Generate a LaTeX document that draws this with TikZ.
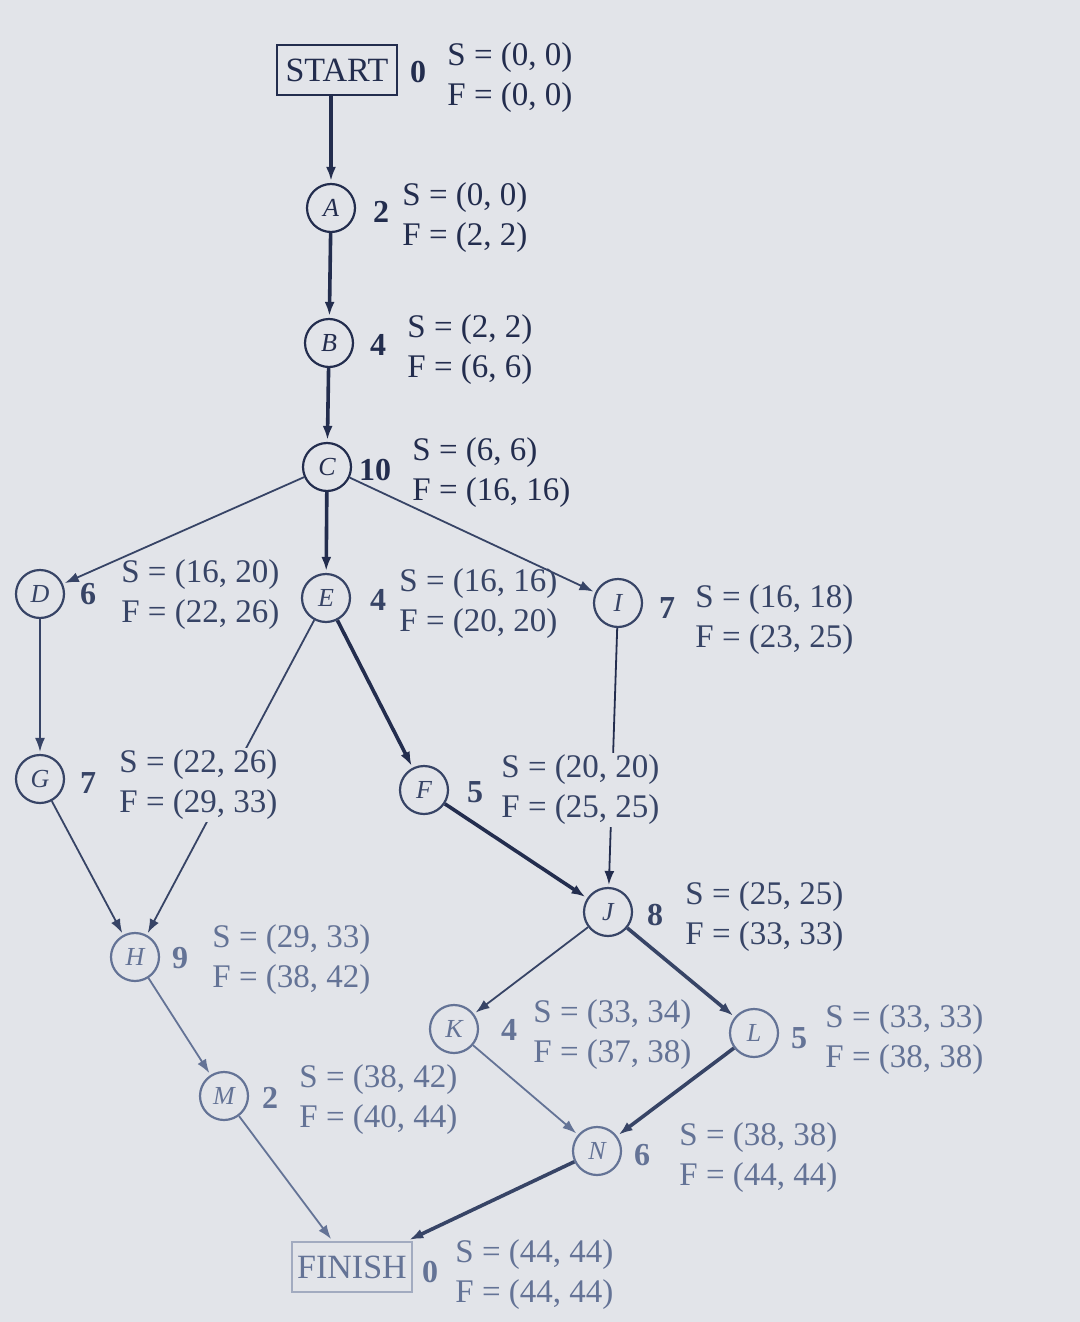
\documentclass[tikz,border=0pt]{standalone}
\usepackage{fontspec}
\setmainfont{Liberation Serif}
\usetikzlibrary{arrows.meta}
\definecolor{bg}{RGB}{226,228,233}
\definecolor{inkA}{RGB}{35,45,78}
\definecolor{inkB}{RGB}{55,68,102}
\definecolor{inkC}{RGB}{100,115,150}
\tikzset{
 act/.style={circle, draw, line width=1.1pt, minimum size=24pt, inner sep=0pt, font=\fontsize{13}{13}\selectfont\itshape},
 term/.style={rectangle, draw, line width=1.3pt, minimum width=60pt, minimum height=25pt, inner sep=1pt, font=\fontsize{17}{17}\selectfont},
 dur/.style={font=\fontsize{16}{16}\selectfont\bfseries, inner sep=0pt},
 lab/.style={anchor=west, align=left, font=\fontsize{16.5}{20}\selectfont, inner sep=1pt, text=#1},
 masked/.style={fill=bg},
 crit/.style={line width=1.8pt, -{Latex[length=7pt,width=5pt]}, shorten >=1pt},
 ord/.style={line width=0.9pt, -{Latex[length=7pt,width=5pt]}, shorten >=1pt},
}
\begin{document}
\begin{tikzpicture}[x=0.5pt,y=-0.5pt]
\fill[bg] (0,0) rectangle (1080,1322);
\useasboundingbox (0,0) rectangle (1080,1322);
% activity nodes
\node[term, inkA] (start) at (337,70) {START};
\node[act, inkA] (A) at (331,208) {A};
\node[act, inkA] (B) at (329,343) {B};
\node[act, inkA] (C) at (327,467) {C};
\node[act, inkB] (D) at (40,594) {D};
\node[act, inkB] (E) at (326,598) {E};
\node[act, inkB] (I) at (618,603) {I};
\node[act, inkB] (G) at (40,779) {G};
\node[act, inkB] (F) at (424,790) {F};
\node[act, inkB] (J) at (608,912) {J};
\node[act, inkC] (H) at (135,957) {H};
\node[act, inkC] (K) at (454,1029) {K};
\node[act, inkC] (L) at (754,1033) {L};
\node[act, inkC] (M) at (224,1096) {M};
\node[act, inkC] (N) at (597,1151) {N};
\node[term, inkC, draw=inkC!60] (finish) at (352,1267) {FINISH};

% connectors
\draw[crit, inkA] (start.south -| A) -- (A);
\draw[crit, inkA] (A) -- (B);
\draw[crit, inkA] (B) -- (C);
\draw[ord, inkB] (C) -- (D);
\draw[crit, inkA] (C) -- (E);
\draw[ord, inkB] (C) -- (I);
\draw[ord, inkB] (D) -- (G);
\draw[ord, inkB] (E) -- (H);
\draw[crit, inkA] (E) -- (F);
\draw[ord, inkB] (G) -- (H);
\draw[crit, inkA] (F) -- (J);
\draw[ord, inkA] (I) -- (J);
\draw[ord, inkB] (J) -- (K);
\draw[crit, inkB] (J) -- (L);
\draw[ord, inkC] (H) -- (M);
\draw[ord, inkC] (K) -- (N);
\draw[crit, inkB] (L) -- (N);
\draw[ord, inkC] (M) -- (finish);
\draw[crit, inkB] (N) -- (finish);

% durations and times
\node[dur, inkA] (dstart) at (418,72) {0};
\node[lab=inkA] (lstart) at (445,78) {S = (0, 0)\\F = (0, 0)};
\node[dur, inkA] (dA) at (381,212) {2};
\node[lab=inkA] (lA) at (400,218) {S = (0, 0)\\F = (2, 2)};
\node[dur, inkA] (dB) at (378,345) {4};
\node[lab=inkA] (lB) at (405,350) {S = (2, 2)\\F = (6, 6)};
\node[dur, inkA] (dC) at (375,470) {10};
\node[lab=inkA] (lC) at (410,473) {S = (6, 6)\\F = (16, 16)};
\node[dur, inkB] (dD) at (88,594) {6};
\node[lab=inkB] (lD) at (119,595) {S = (16, 20)\\F = (22, 26)};
\node[dur, inkB] (dE) at (378,600) {4};
\node[lab=inkB] (lE) at (397,604) {S = (16, 16)\\F = (20, 20)};
\node[dur, inkB] (dI) at (667,608) {7};
\node[lab=inkB] (lI) at (693,620) {S = (16, 18)\\F = (23, 25)};
\node[dur, inkB] (dG) at (88,783) {7};
\node[lab=inkB, masked] (lG) at (117,785) {S = (22, 26)\\F = (29, 33)};
\node[dur, inkB] (dF) at (475,792) {5};
\node[lab=inkB, masked] (lF) at (499,790) {S = (20, 20)\\F = (25, 25)};
\node[dur, inkB] (dJ) at (655,915) {8};
\node[lab=inkB] (lJ) at (683,917) {S = (25, 25)\\F = (33, 33)};
\node[dur, inkC] (dH) at (180,958) {9};
\node[lab=inkC] (lH) at (210,960) {S = (29, 33)\\F = (38, 42)};
\node[dur, inkC] (dK) at (509,1030) {4};
\node[lab=inkC] (lK) at (531,1035) {S = (33, 34)\\F = (37, 38)};
\node[dur, inkC] (dL) at (799,1038) {5};
\node[lab=inkC] (lL) at (823,1040) {S = (33, 33)\\F = (38, 38)};
\node[dur, inkC] (dM) at (270,1098) {2};
\node[lab=inkC] (lM) at (297,1100) {S = (38, 42)\\F = (40, 44)};
\node[dur, inkC] (dN) at (642,1155) {6};
\node[lab=inkC] (lN) at (677,1158) {S = (38, 38)\\F = (44, 44)};
\node[dur, inkC] (dfinish) at (430,1272) {0};
\node[lab=inkC] (lfinish) at (453,1275) {S = (44, 44)\\F = (44, 44)};
\end{tikzpicture}
\end{document}
